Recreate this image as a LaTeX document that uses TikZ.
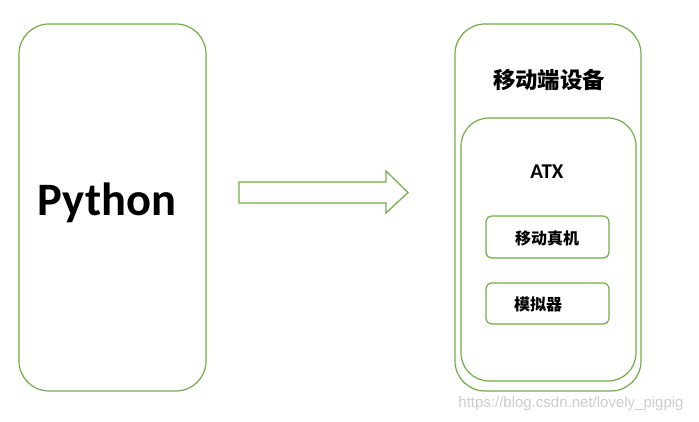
\documentclass[tikz,border=0pt]{standalone}
\usepackage{fontspec}
\setmainfont{Carlito}
\newfontfamily\cjk{Noto Sans CJK SC}
\newfontfamily\wm{Liberation Sans}
\definecolor{gr}{HTML}{70AD47}
\begin{document}
\begin{tikzpicture}[x=1pt,y=-1pt,
  box/.style={draw=gr,line width=1.2pt,rounded corners=#1},
  lbl/.style={font=\cjk\bfseries\fontsize{16}{18}\selectfont}]
\useasboundingbox (0,0) rectangle (699,422);
\draw[box=30pt] (19,24) rectangle (206,391);
\node (py) at (107,203) {\fontsize{46.5}{52}\selectfont\bfseries Python};
\draw[gr,line width=1.2pt] (239,182) -- (386,182) -- (386,171) -- (408,192.5) -- (386,213) -- (386,203) -- (239,203) -- cycle;
\draw[box=30pt] (455,24) rectangle (641,391);
\node[font=\cjk\bfseries\fontsize{22.4}{25}\selectfont] (dev) at (549,80) {移动端设备};
\draw[box=28pt] (461,118) rectangle (636,381);
\node[font=\bfseries\fontsize{21}{24}\selectfont] (atx) at (547,172) {ATX};
\draw[box=6pt] (486,216) rectangle (609,258);
\node[lbl] (m) at (547,238) {移动真机};
\draw[box=6pt] (486,283) rectangle (609,324);
\node[lbl] (s) at (538,304) {模拟器};
\node[text=black!20,font=\wm\fontsize{15}{17}\selectfont] (w) at (571,404) {https://blog.csdn.net/lovely\_pigpig};
\end{tikzpicture}
\end{document}
